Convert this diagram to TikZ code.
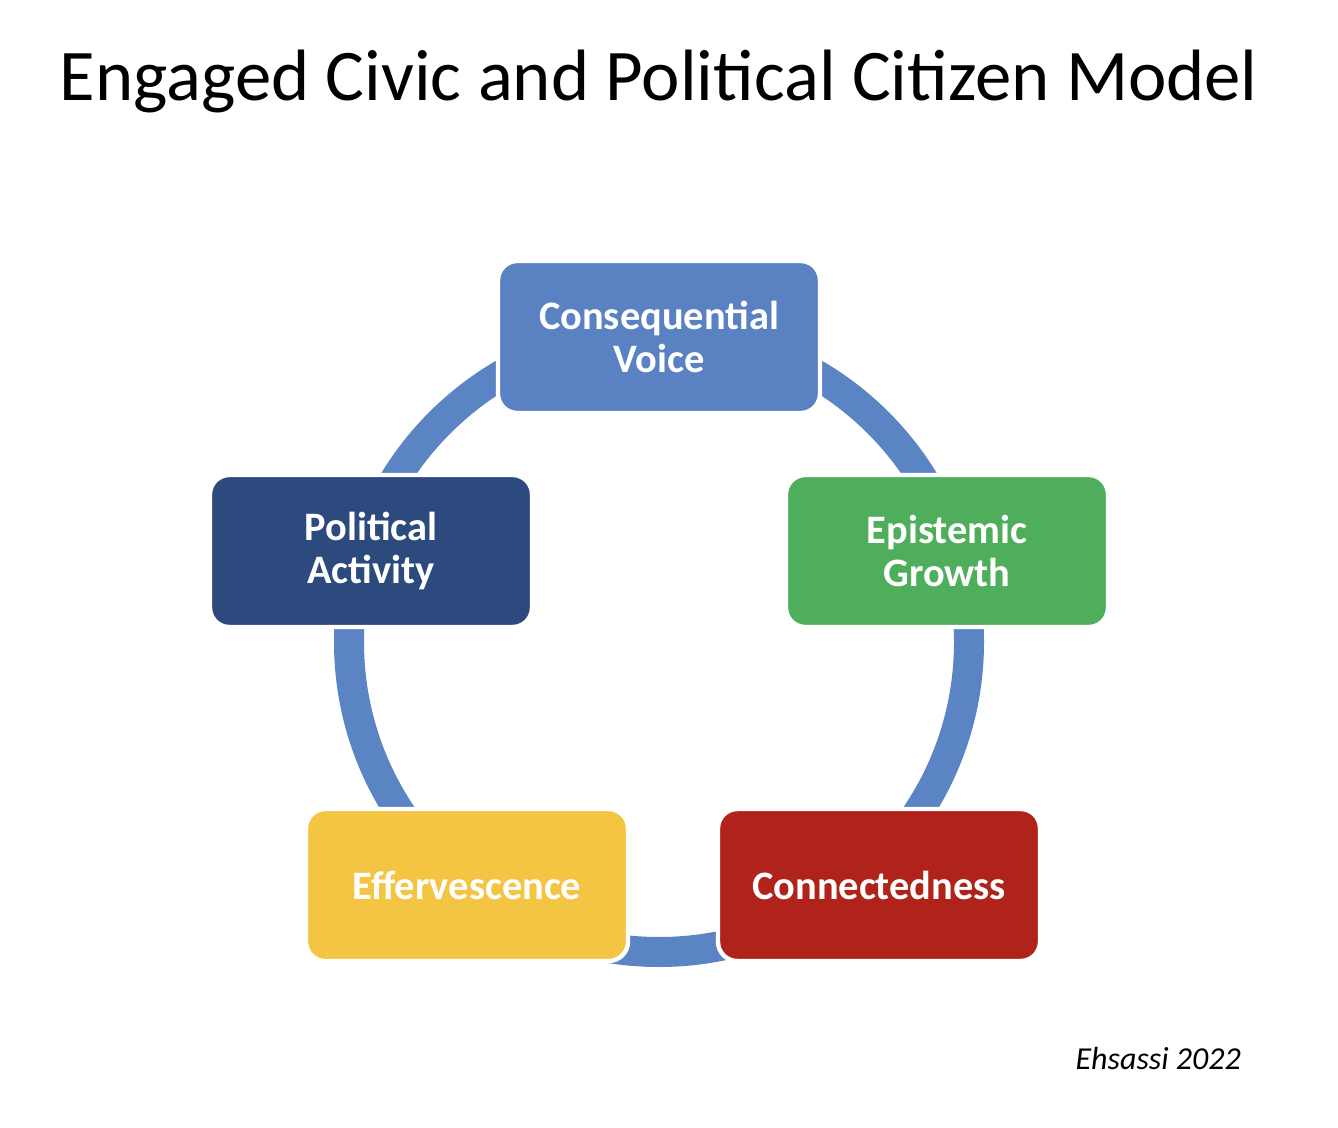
\documentclass[tikz,border=0pt]{standalone}
\usepackage{fontspec}
\setmainfont{Carlito}
\definecolor{ringblue}{HTML}{5B84C4}
\definecolor{cvblue}{HTML}{5A82C2}
\definecolor{navy}{HTML}{2C4A7E}
\definecolor{egreen}{HTML}{4EAE5B}
\definecolor{eyellow}{HTML}{F4C542}
\definecolor{cred}{HTML}{B0231A}
\tikzset{
  stage/.style={draw=white, line width=2.5pt, rounded corners=11pt,
    minimum width=322*0.02cm, minimum height=152*0.02cm,
    text=white, font=\bfseries\fontsize{23}{24.5}\selectfont,
    align=center, inner sep=0pt},
  ringline/.style={draw=ringblue, line width=30*0.02cm}
}
\begin{document}
\begin{tikzpicture}[x=0.02cm,y=-0.02cm]
\path[fill=white] (0,0) rectangle (1338,1128);
\useasboundingbox (0,0) rectangle (1338,1128);
\node[anchor=base, font=\fontsize{41.4}{48}\selectfont] (title) at (659,101) {Engaged Civic and Political Citizen Model};
\coordinate (c) at (659,642);
\draw[ringline] (c) circle[radius=310];
\node[stage, fill=cvblue] (cv) at (659,337) {Consequential\\Voice};
\node[stage, fill=navy] (pa) at (371,551) {Political\\Activity};
\node[stage, fill=egreen] (eg) at (947,551) {Epistemic\\Growth};
\node[stage, fill=eyellow] (ef) at (467,885) {Effervescence};
\node[stage, fill=cred] (cn) at (879,885) {Connectedness};
\node[anchor=base east, font=\itshape\fontsize{18.2}{21}\selectfont] (cite) at (1247,1069) {Ehsassi 2022};
\end{tikzpicture}
\end{document}
